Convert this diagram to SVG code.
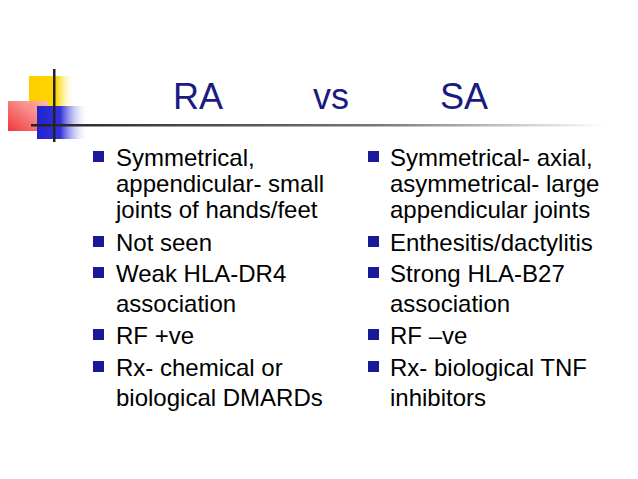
<svg xmlns="http://www.w3.org/2000/svg" width="638" height="479" viewBox="0 0 638 479">
<defs>
<linearGradient id="gy" x1="0" x2="1"><stop offset="0" stop-color="#ffcc00"/><stop offset="0.6" stop-color="#ffd700"/><stop offset="1" stop-color="#fff" stop-opacity="0"/></linearGradient>
<linearGradient id="gr" x1="0" y1="1" x2="1" y2="0"><stop offset="0" stop-color="#ee2222"/><stop offset="1" stop-color="#ffbbbb"/></linearGradient>
<linearGradient id="gb" x1="0" x2="1"><stop offset="0" stop-color="#2222cc"/><stop offset="0.45" stop-color="#3333dd"/><stop offset="1" stop-color="#fff" stop-opacity="0"/></linearGradient>
<linearGradient id="gl" x1="0" x2="1"><stop offset="0" stop-color="#222"/><stop offset="0.6" stop-color="#777"/><stop offset="1" stop-color="#fff"/></linearGradient>
<style>
.t{font-family:"Liberation Sans",Arial,sans-serif;font-size:36px;fill:#1a1a80}
.b{font-family:"Liberation Sans",Arial,sans-serif;font-size:24px;fill:#000}
.s{fill:#1a1a99}
</style>
</defs>
<g id="deco">
<rect x="29" y="76" width="46" height="33" fill="url(#gy)"/>
<rect x="8" y="101" width="40" height="30" fill="url(#gr)" opacity="0.9"/>
<rect x="37" y="106" width="52" height="33" fill="url(#gb)"/>
<rect x="53" y="69" width="2.5" height="73" fill="#222"/>
<rect x="31" y="124" width="575" height="2.5" fill="url(#gl)"/>
</g>
<g id="title">
<text class="t" x="173" y="109">RA</text>
<text class="t" x="313" y="109">vs</text>
<text class="t" x="440" y="109">SA</text>
</g>
<g id="left">
<rect class="s" x="93" y="151" width="11" height="11"/>
<rect class="s" x="93" y="236" width="11" height="11"/>
<rect class="s" x="93" y="267" width="11" height="11"/>
<rect class="s" x="93" y="329" width="11" height="11"/>
<rect class="s" x="93" y="361" width="11" height="11"/>
<text class="b" x="116" y="166">Symmetrical,</text>
<text class="b" x="116" y="192">appendicular- small</text>
<text class="b" x="116" y="218">joints of hands/feet</text>
<text class="b" x="116" y="251">Not seen</text>
<text class="b" x="116" y="282">Weak HLA-DR4</text>
<text class="b" x="116" y="312">association</text>
<text class="b" x="116" y="344">RF +ve</text>
<text class="b" x="116" y="376">Rx- chemical or</text>
<text class="b" x="116" y="406">biological DMARDs</text>
</g>
<g id="right">
<rect class="s" x="368" y="151" width="11" height="11"/>
<rect class="s" x="368" y="236" width="11" height="11"/>
<rect class="s" x="368" y="267" width="11" height="11"/>
<rect class="s" x="368" y="329" width="11" height="11"/>
<rect class="s" x="368" y="361" width="11" height="11"/>
<text class="b" x="390" y="166">Symmetrical- axial,</text>
<text class="b" x="390" y="192">asymmetrical- large</text>
<text class="b" x="390" y="218">appendicular joints</text>
<text class="b" x="390" y="251">Enthesitis/dactylitis</text>
<text class="b" x="390" y="282">Strong HLA-B27</text>
<text class="b" x="390" y="312">association</text>
<text class="b" x="390" y="344">RF –ve</text>
<text class="b" x="390" y="376">Rx- biological TNF</text>
<text class="b" x="390" y="406">inhibitors</text>
</g>
<g id="connectors"/>
</svg>
